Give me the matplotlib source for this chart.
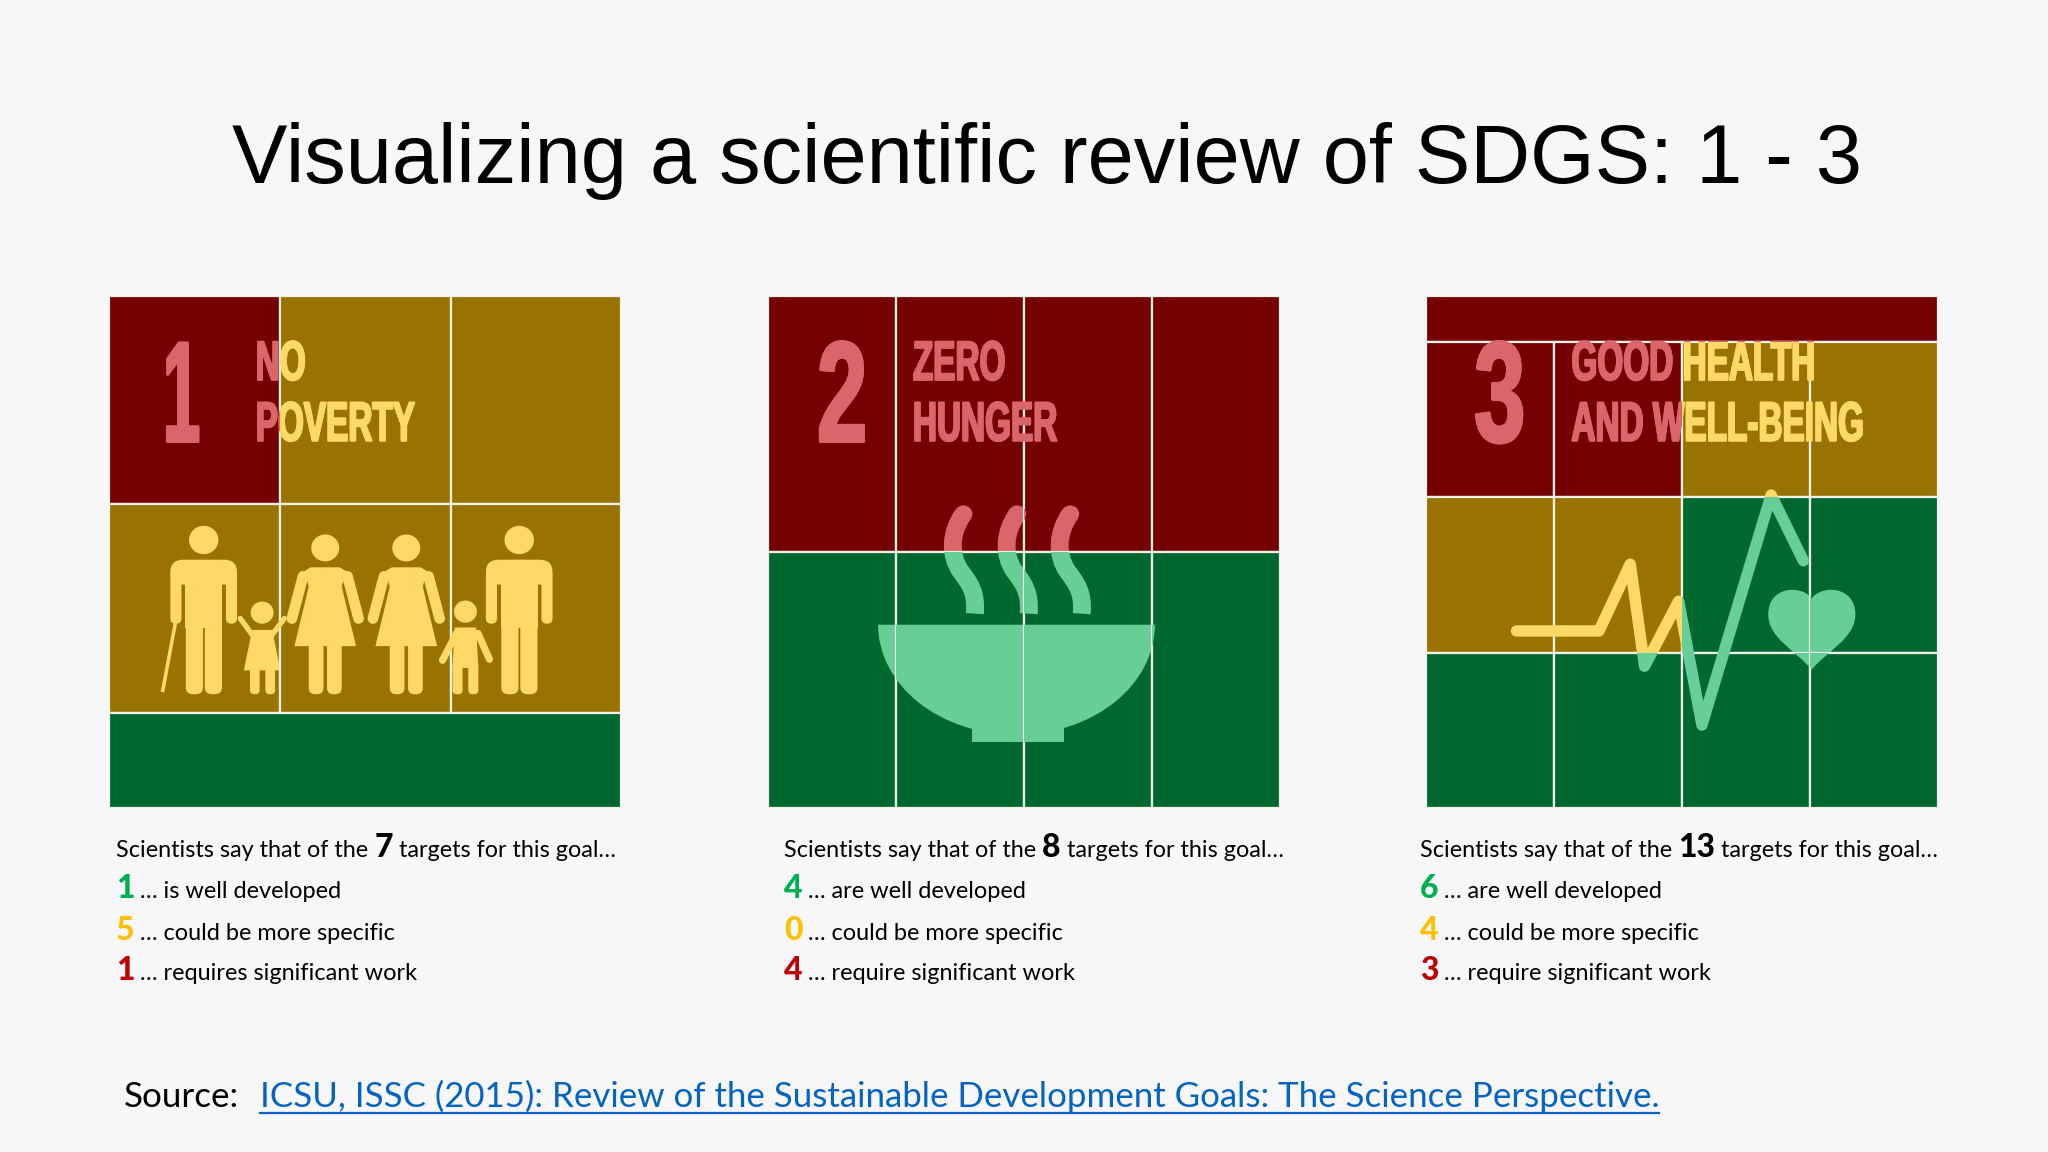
import matplotlib
matplotlib.use('Agg')
from matplotlib import pyplot as plt
from matplotlib import patheffects
from matplotlib.patches import Circle, FancyBboxPatch, PathPatch, Polygon, Rectangle
from matplotlib.path import Path
from matplotlib.transforms import Affine2D

title = 'Visualizing a scientific review of SDGS: 1 - 3'
source_label = 'Source:'
source_link = 'ICSU, ISSC (2015): Review of the Sustainable Development Goals: The Science Perspective.'

# goals and what the review says about their targets
goal_numbers = ['1', '2', '3']
goal_titles = [['NO', 'POVERTY'], ['ZERO', 'HUNGER'], ['GOOD HEALTH', 'AND WELL-BEING']]
targets_total = [7, 8, 13]
well_developed = [1, 4, 6]
more_specific = [5, 0, 4]
significant_work = [1, 4, 3]
well_labels = ['is well developed', 'are well developed', 'are well developed']
specific_labels = ['could be more specific', 'could be more specific', 'could be more specific']
work_labels = ['requires significant work', 'require significant work', 'require significant work']

# waffle layout, one list per row, r=significant work, a=more specific, g=well developed
goal1_rows = [['r', 'a', 'a'], ['a', 'a', 'a'], ['g']]
goal2_rows = [['r', 'r', 'r', 'r'], ['g', 'g', 'g', 'g']]
goal3_rows = [['r'], ['r', 'r', 'a', 'a'], ['a', 'a', 'g', 'g'], ['g', 'g', 'g', 'g']]
goal1_row_shares = [0.406, 0.408, 0.186]
goal2_row_shares = [0.5, 0.5]
goal3_row_shares = [0.091, 0.303, 0.304, 0.302]

bg_color = '#F7F6F8'
cell_colors = {'r': '#750000', 'a': '#997300', 'g': '#00682F'}
tints = {'r': '#D9666B', 'a': '#FFD966', 'g': '#66CE96'}
line_color = '#F1F1EC'
number_colors = ['#00B050', '#FFC000', '#C00000']

W, H = 2048, 1152
# icons below are sketched in a stretched panel space, this is the panel box in that space
panel_left = [57, 53, 48]
panel_span = 1428
panel_top, panel_bottom = 48, 1530
panel_px = [109.4, 768, 1426.2]
panel_w_px, panel_y0_px, panel_h_px = 512, 295.5, 512.5
number_squeeze = [0.46, 0.63, 0.64]
number_x = [207, 190, 182]
title_x = [465, 457, 453]


class Squeeze(patheffects.AbstractPathEffect):
    # the badge lettering is very condensed and heavy, no installed font is like that
    def __init__(self, sx, stroke=1.2):
        self.sx = sx
        self.stroke = stroke

    def draw_path(self, renderer, gc, tpath, affine, rgbFace=None):
        gc0 = renderer.new_gc()
        gc0.copy_properties(gc)
        gc0.set_foreground(rgbFace)
        gc0.set_linewidth(self.stroke)
        renderer.draw_path(gc0, tpath, Affine2D().scale(self.sx, 1.0) + affine, rgbFace)
        gc0.restore()


def clipped(ax, artist, cell):
    ax.add_artist(artist)
    artist.set_clip_path(cell)
    artist.set_clip_on(True)


def thick(ax, xs, ys, width, color, cell, cap='round'):
    line, = ax.plot(xs, ys, color=color, lw=width / 2.8 * 0.72, solid_capstyle=cap,
                    solid_joinstyle='round')
    line.set_clip_path(cell)


def rounded(ax, x, y, w, h, r, color, cell):
    clipped(ax, FancyBboxPatch((x + r, y + r), w - 2 * r, h - 2 * r, boxstyle='round,pad=%f,rounding_size=%f' % (r, r),
                               fc=color, ec='none'), cell)


def man(ax, cx, color, cell):
    clipped(ax, Circle((cx, 755), 41, fc=color, ec='none'), cell)
    rounded(ax, cx - 93, 812, 186, 72, 36, color, cell)
    rounded(ax, cx - 93, 845, 31, 152, 15, color, cell)
    rounded(ax, cx + 62, 845, 31, 152, 15, color, cell)
    clipped(ax, Rectangle((cx - 52, 850), 104, 160, fc=color, ec='none'), cell)
    rounded(ax, cx - 50, 960, 48, 241, 20, color, cell)
    rounded(ax, cx + 3, 960, 48, 241, 20, color, cell)


def woman(ax, cx, color, cell):
    clipped(ax, Circle((cx, 778), 39, fc=color, ec='none'), cell)
    clipped(ax, Polygon([(cx - 58, 845), (cx - 40, 834), (cx + 40, 834), (cx + 58, 845), (cx + 46, 890),
                         (cx + 86, 1062), (cx - 86, 1062), (cx - 46, 890)], fc=color, ec='none'), cell)
    thick(ax, [cx - 62, cx - 93], [860, 982], 30, color, cell)
    thick(ax, [cx + 62, cx + 93], [860, 982], 30, color, cell)
    rounded(ax, cx - 46, 1040, 41, 161, 18, color, cell)
    rounded(ax, cx + 5, 1040, 41, 161, 18, color, cell)


def goal1_icon(ax, color, cell):
    man(ax, 320, color, cell)
    man(ax, 1200, color, cell)
    woman(ax, 659, color, cell)
    woman(ax, 885, color, cell)
    thick(ax, [241, 205], [995, 1195], 10, color, cell, cap='butt')
    # girl
    clipped(ax, Circle((483, 965), 32, fc=color, ec='none'), cell)
    clipped(ax, Polygon([(455, 1015), (511, 1015), (534, 1132), (432, 1132)], fc=color, ec='none'), cell)
    thick(ax, [456, 422], [1030, 982], 15, color, cell)
    thick(ax, [510, 545], [1030, 982], 15, color, cell)
    rounded(ax, 449, 1120, 27, 81, 12, color, cell)
    rounded(ax, 492, 1120, 27, 81, 12, color, cell)
    # boy
    clipped(ax, Circle((1050, 962), 32, fc=color, ec='none'), cell)
    clipped(ax, Polygon([(1020, 1008), (1080, 1008), (1086, 1125), (1014, 1125)], fc=color, ec='none'), cell)
    thick(ax, [1025, 986], [1025, 1103], 20, color, cell)
    thick(ax, [1085, 1117], [1025, 1100], 20, color, cell)
    rounded(ax, 1014, 1110, 28, 91, 12, color, cell)
    rounded(ax, 1058, 1110, 28, 91, 12, color, cell)


def goal2_icon(ax, color, cell):
    for dx in [0, 150, 298]:
        codes = [Path.MOVETO, Path.CURVE4, Path.CURVE4, Path.CURVE4, Path.CURVE4, Path.CURVE4, Path.CURVE4]
        verts = [(598 + dx, 680), (560 + dx, 735), (560 + dx, 800), (590 + dx, 845),
                 (615 + dx, 880), (635 + dx, 905), (630 + dx, 968)]
        clipped(ax, PathPatch(Path(verts, codes), fc='none', ec=color, lw=50 / 2.8 * 0.72, capstyle='butt'), cell)
        clipped(ax, Circle((598 + dx, 680), 25, fc=color, ec='none'), cell)
    bowl = Path.arc(0, 180).transformed(Affine2D().scale(386, 318).translate(746, 1000))
    clipped(ax, PathPatch(bowl, fc=color, ec='none'), cell)
    clipped(ax, Rectangle((623, 1290), 255, 50, fc=color, ec='none'), cell)


def goal3_icon(ax, color, cell):
    thick(ax, [300, 530, 617, 657, 752, 817, 1010, 1100], [1018, 1018, 825, 1120, 932, 1290, 625, 815],
          32, color, cell)
    codes = [Path.MOVETO] + [Path.CURVE4] * 12
    verts = [(1123, 925), (1100, 885), (1002, 885), (1002, 970),
             (1002, 1040), (1080, 1075), (1123, 1130),
             (1166, 1075), (1245, 1040), (1245, 970),
             (1245, 885), (1146, 885), (1123, 925)]
    clipped(ax, PathPatch(Path(verts, codes), fc=color, ec='none'), cell)


def draw_panel(idx, rows, shares, icon):
    ax = fig.add_axes([panel_px[idx] / W, 1 - (panel_y0_px + panel_h_px) / H, panel_w_px / W, panel_h_px / H])
    left = panel_left[idx]
    ax.set_xlim(left, left + panel_span)
    ax.set_ylim(panel_bottom, panel_top)
    ax.axis('off')
    y = panel_top
    full = panel_bottom - panel_top
    for row, share in zip(rows, shares):
        h = share * full
        w = panel_span / len(row)
        for c, kind in enumerate(row):
            cell = ax.bar(left + c * w, h, w, bottom=y, align='edge', color=cell_colors[kind],
                          edgecolor=line_color, linewidth=1.6, zorder=1)[0]
            tint = tints[kind]
            icon(ax, tint, cell)
            number = ax.text(number_x[idx], 470, goal_numbers[idx], fontsize=103, fontweight='bold', color=tint,
                             family=['Liberation Sans Narrow', 'Liberation Sans'],
                             path_effects=[Squeeze(number_squeeze[idx], 2.0)])
            clipped(ax, number, cell)
            for line_text, base in zip(goal_titles[idx], [292, 468]):
                t = ax.text(title_x[idx], base, line_text, fontsize=40, fontweight='bold', color=tint,
                            family=['Liberation Sans Narrow', 'Liberation Sans'],
                            path_effects=[Squeeze(0.6)])
                clipped(ax, t, cell)
        y += h
    for art in ax.get_children():
        if art not in ax.patches:
            art.set_zorder(3)
    for art in ax.patches:
        if art.get_zorder() != 1:
            art.set_zorder(3)


def text_runs(x, y, runs):
    for s, size, weight, color, gap in runs:
        t = bg.text(x, y, s, fontsize=size, fontweight=weight, color=color, family='Lato')
        x = t.get_window_extent(renderer).x1 + gap
    return x


fig = plt.figure(figsize=(W / 100, H / 100), dpi=100, facecolor=bg_color)
renderer = fig.canvas.get_renderer()
bg = fig.add_axes([0, 0, 1, 1])
bg.set_xlim(0, W)
bg.set_ylim(H, 0)
bg.axis('off')

bg.text(232, 183, title, fontsize=59.8, color='black', family='Liberation Sans')

draw_panel(0, goal1_rows, goal1_row_shares, goal1_icon)
draw_panel(1, goal2_rows, goal2_row_shares, goal2_icon)
draw_panel(2, goal3_rows, goal3_row_shares, goal3_icon)

text_x = [116, 784, 1420]
for i in range(3):
    x = text_x[i]
    text_runs(x, 857, [('Scientists say that of the', 16.8, 'normal', 'black', 6),
                       (str(targets_total[i]), 23, 900, 'black', 6),
                       ('targets for this goal…', 16.8, 'normal', 'black', 0)])
    counts = [well_developed[i], more_specific[i], significant_work[i]]
    labels = [well_labels[i], specific_labels[i], work_labels[i]]
    for j, base in enumerate([898.5, 939.5, 980.5]):
        text_runs(x, base, [(str(counts[j]), 23, 900, number_colors[j], 5),
                            ('… ' + labels[j], 16.9, 'normal', 'black', 0)])

text_runs(124, 1107, [(source_label, 25.2, 'normal', 'black', 0)])
end = text_runs(259.5, 1107, [(source_link, 25.12, 'normal', '#0563C1', 0)])
bg.plot([259.5, end], [1112.5, 1112.5], color='#0563C1', lw=1.6)

fig.savefig('out.png', dpi=100, facecolor=bg_color)
